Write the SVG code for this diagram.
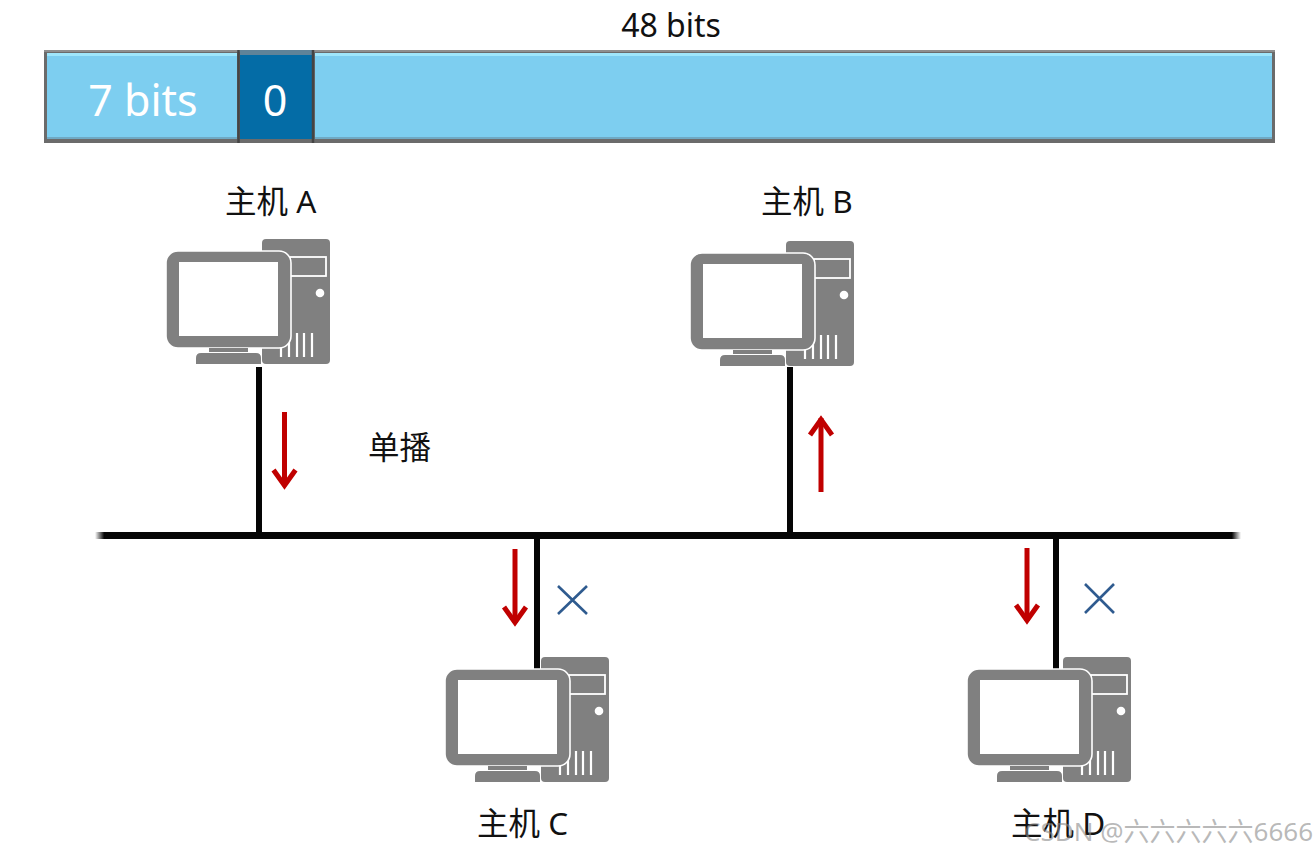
<svg xmlns="http://www.w3.org/2000/svg" width="1316" height="854" viewBox="0 0 1316 854">
<style>
text{font-family:"Noto Sans","Noto Sans CJK SC",sans-serif;fill:#111}
.lbl{font-size:31.500px}
.cell{font-size:43px;fill:#fff;text-anchor:middle}
.wire{stroke:#050505;stroke-width:6;fill:none}
.red{stroke:#c00000;stroke-width:5;fill:none}
.head{stroke:#c00000;stroke-width:5;fill:none;stroke-linejoin:miter}
.x{stroke:#2f5b8f;stroke-width:2.600;fill:none}
</style>
<defs>
<linearGradient id="bus" x1="0" x2="1" y1="0" y2="0"><stop offset="0" stop-color="#050505" stop-opacity="0"/><stop offset="0.008" stop-color="#050505"/><stop offset="0.992" stop-color="#050505"/><stop offset="1" stop-color="#050505" stop-opacity="0"/></linearGradient>
<g id="pc">
<rect x="262" y="239" width="68" height="125" rx="4" fill="#808080"/>
<rect x="290" y="257" width="36" height="19" fill="#808080" stroke="#fff" stroke-width="1.800"/>
<circle cx="320" cy="293" r="4.300" fill="#fff"/>
<path d="M281 336V357M289 333V357M297 333V357M304 333V357M312 333V357" stroke="#fff" stroke-width="2.200"/>
<rect x="166" y="251" width="125" height="97" rx="12" fill="#808080" stroke="#fff" stroke-width="1.600"/>
<rect x="179" y="262" width="99" height="74" fill="#fff"/>
<rect x="209" y="348" width="39" height="4" fill="#808080"/>
<path d="M196 364V358Q196 353 201 353H256Q261 353 261 358V364Z" fill="#808080"/>
</g>
</defs>
<g id="connectors">
<path class="wire" d="M259 367V535"/>
<path class="wire" d="M790 367V535"/>
<path class="wire" d="M537 535V671"/>
<path class="wire" d="M1056 535V671"/>
<rect x="95" y="532" width="1146" height="7" fill="url(#bus)"/>
<path class="red" d="M284.500 412V486"/>
<path class="head" d="M273.500 470L284.500 485.500L295.500 470"/>
<path class="red" d="M821 492V418"/>
<path class="head" d="M810 435L821 419.500L832 435"/>
<path class="red" d="M515 549V623"/>
<path class="head" d="M504 607L515 622.500L526 607"/>
<path class="red" d="M1027 548V621"/>
<path class="head" d="M1016 605L1027 620.500L1038 605"/>
<path class="x" d="M558 586L587 614M587 586L558 614"/>
<path class="x" d="M1085 584L1114 613M1114 584L1085 613"/>
</g>
<g id="bar">
<text class="lbl" x="671" y="37" text-anchor="middle" style="font-size:32px">48 bits</text>
<rect x="44" y="50" width="1231" height="93" fill="#6b6b6b"/>
<rect x="44" y="50" width="1231" height="2" fill="#8e8e8e"/>
<rect x="47" y="53" width="190" height="86" fill="#7dcef0"/>
<rect x="47" y="53" width="190" height="3" fill="#9fe6fb"/>
<rect x="47" y="137" width="190" height="2" fill="#6fa9c4"/>
<rect x="240" y="50" width="72" height="5" fill="#5f8399"/>
<rect x="240" y="55" width="72" height="84" fill="#046ca6"/>
<rect x="315" y="53" width="957" height="86" fill="#7dcef0"/>
<rect x="315" y="53" width="957" height="3" fill="#9fe6fb"/>
<rect x="315" y="137" width="957" height="2" fill="#6fa9c4"/>
<path d="M238.500 50V143M313 50V143" stroke="#444" stroke-width="2.500"/>
<text class="cell" x="143" y="116">7 bits</text>
<text class="cell" x="275" y="116">0</text>
</g>
<g id="host-a"><use href="#pc"/><text class="lbl" x="225" y="213">主机 A</text></g>
<g id="host-b"><use href="#pc" x="524" y="2"/><text class="lbl" x="761" y="213">主机 B</text></g>
<g id="host-c"><use href="#pc" x="279" y="418"/><text class="lbl" x="477" y="835">主机 C</text></g>
<g id="host-d"><use href="#pc" x="801" y="418"/><text class="lbl" x="1011" y="835">主机 D</text></g>
<g id="label-unicast"><text class="lbl" x="368" y="459">单播</text></g>
<text x="1024" y="841" font-size="26" style="fill:#8a8a8a;fill-opacity:.6">CSDN @六六六六六6666</text>
</svg>
